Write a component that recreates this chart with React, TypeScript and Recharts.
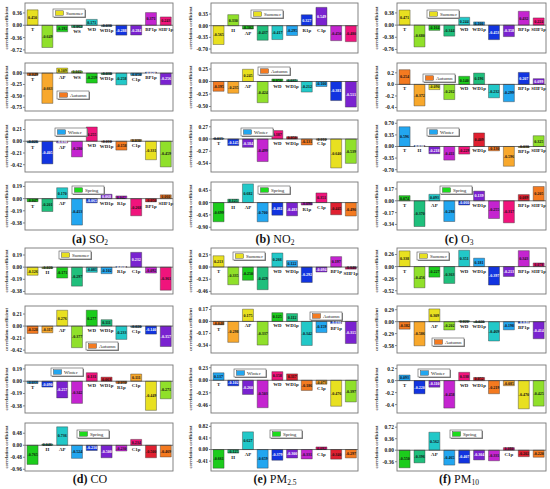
import React from "react";
import { BarChart, Bar, XAxis, YAxis, ReferenceLine, LabelList, Cell } from "recharts";

const categories = ["T", "H", "AP", "WS", "WD", "WD1p", "R1p", "C1p", "BP1p", "SHF1p"];
const seasons = ["Summer", "Autumn", "Winter", "Spring"];

// (a) SO2
const so2Summer = [0.45, -0.649, -0.192, -0.062, 0.171, -0.03, -0.288, -0.284, 0.371, 0.243];
const so2Autumn = [-0.049, -0.663, 0.109, 0.042, -0.219, -0.03, -0.258, -0.05, 0.02, -0.256];
const so2Winter = [-0.026, -0.405, -0.03, -0.28, 0.255, -0.01, -0.158, 0.03, -0.331, -0.459];
const so2Spring = [-0.047, -0.201, 0.17, -0.413, -0.065, 0.068, 0.042, -0.268, -0.05, 0.06];
// (b) NO2
const no2Summer = [-0.565, 0.33, -0.102, -0.437, -0.417, -0.295, 0.327, 0.549, -0.45, -0.48];
const no2Autumn = [-0.195, -0.235, 0.245, -0.424, 0.05, 0.035, -0.212, -0.1, -0.381, -0.511];
const no2Winter = [0.015, -0.145, -0.184, -0.499, 0.187, 0.05, -0.131, -0.01, -0.64, -0.539];
const no2Spring = [-0.699, 0.125, 0.682, -0.7, -0.461, -0.483, -0.09, 0.351, -0.445, -0.49];
// (c) O3
const o3Summer = [0.471, -0.68, -0.164, -0.344, 0.244, 0.1, -0.453, -0.358, 0.432, 0.224];
const o3Autumn = [0.254, -0.372, -0.09, -0.262, 0.14, 0.196, -0.232, -0.299, 0.207, 0.099];
const o3Winter = [0.596, 0.03, -0.218, -0.411, -0.229, 0.409, -0.13, -0.596, -0.03, 0.325];
const o3Spring = [0.074, -0.37, 0.093, -0.298, -0.06, 0.139, -0.255, -0.317, 0.089, 0.205];
// (d) CO
const coSummer = [-0.126, -0.02, -0.171, -0.297, -0.081, -0.102, 0.01, 0.232, -0.092, -0.361];
const coAutumn = [-0.128, -0.117, 0.276, -0.377, 0.277, 0.111, -0.233, -0.02, -0.14, -0.357];
const coWinter = [-0.033, -0.09, -0.257, -0.342, 0.131, 0.063, -0.03, 0.111, -0.449, -0.271];
const coSpring = [-0.765, 0.046, 0.736, -0.524, -0.21, -0.5, -0.23, 0.234, -0.5, -0.469];
// (e) PM2.5
const pm25Summer = [0.213, -0.335, -0.25, -0.429, 0.266, 0.122, -0.292, -0.094, 0.197, -0.04];
const pm25Autumn = [-0.048, -0.298, 0.175, -0.337, 0.125, 0.112, -0.342, -0.159, -0.03, -0.315];
const pm25Winter = [0.137, -0.102, -0.26, -0.503, 0.158, 0.117, -0.186, -0.073, -0.476, -0.397];
const pm25Spring = [-0.661, -0.125, 0.627, -0.659, -0.379, -0.3, -0.331, 0.092, -0.34, -0.297];
// (f) PM10
const pm10Summer = [0.338, -0.456, -0.227, -0.363, 0.351, 0.181, -0.397, -0.213, 0.343, 0.078];
const pm10Autumn = [-0.182, -0.586, 0.309, -0.202, 0.02, -0.02, -0.469, -0.198, -0.04, -0.414];
const pm10Winter = [0.093, -0.22, -0.11, -0.458, 0.138, 0.052, -0.219, -0.085, -0.47, -0.425];
const pm10Spring = [-0.55, -0.396, 0.562, -0.465, -0.407, -0.304, -0.331, 0.08, -0.202, -0.22];

// tick labels
const so2Ticks = [["0.36", "0.00", "-0.36", "-0.72"], ["0.00", "-0.25", "-0.50", "-0.75"], ["0.21", "0.00", "-0.21", "-0.42"], ["0.19", "0.00", "-0.19", "-0.38"]];
const no2Ticks = [["0.35", "0.00", "-0.35", "-0.70"], ["0.25", "0.00", "-0.25", "-0.50"], ["0.27", "0.00", "-0.27", "-0.54"], ["0.45", "0.00", "-0.45", "-0.90"]];
const o3Ticks = [["0.38", "0.00", "-0.38", "-0.76"], ["0.2", "0.0", "-0.2", "-0.4"], ["0.70", "0.35", "0.00", "-0.35", "-0.70"], ["0.17", "0.00", "-0.17", "-0.34"]];
const coTicks = [["0.19", "0.00", "-0.19", "-0.38"], ["0.21", "0.00", "-0.21", "-0.42"], ["0.19", "0.00", "-0.19", "-0.38"], ["0.48", "0.00", "-0.48", "-0.96"]];
const pm25Ticks = [["0.23", "0.00", "-0.23", "-0.46"], ["0.17", "0.00", "-0.17", "-0.34"], ["0.23", "0.00", "-0.23", "-0.46"], ["0.82", "0.41", "0.00", "-0.41"]];
const pm10Ticks = [["0.26", "0.00", "-0.26", "-0.52"], ["0.29", "0.00", "-0.29", "-0.58"], ["0.2", "0.0", "-0.2", "-0.4"], ["0.72", "0.36", "0.00", "-0.36"]];

const FONT = "'Liberation Serif', 'Times New Roman', serif";

// colour wheel used by the plotting program; each season starts at a different slot
const palette = [
  "#f47a20", "#f8a82c", "#e8e020", "#90e02a", "#1ccc1c", "#1fbf7c", "#22c8c8",
  "#22a6f0", "#1234e0", "#7a22d0", "#c424d0", "#f0147c", "#e02030",
];
const seasonStart = [2, 0, 7, 4];
const seasonColor = ["#e8e020", "#f47a20", "#22a6f0", "#1cdc1c"];

const cols = [
  { left: 0, frameLeft: 25, frameRight: 173, labelX: 8, capX: 90 },
  { left: 183, frameLeft: 211, frameRight: 358, labelX: 192, capX: 275 },
  { left: 368, frameLeft: 397, frameRight: 546, labelX: 378, capX: 459 },
];
const rows = [
  { frames: [[3, 53], [63, 111], [120, 172], [182, 230]], capY: 243 },
  { frames: [[248, 294], [306, 353], [365, 413], [423, 471]], capY: 483 },
];

const panels = [
  { col: 0, row: 0, tag: "(a)", chem: "SO", sub: "2", series: [so2Summer, so2Autumn, so2Winter, so2Spring], ticks: so2Ticks,
    domains: [[-0.81, 0.65], [-0.83, 0.22], [-0.55, 0.38], [-0.49, 0.26]],
    legends: [[53, 9], [57, 91], [55, 128], [72, 186]] },
  { col: 1, row: 0, tag: "(b)", chem: "NO", sub: "2", series: [no2Summer, no2Autumn, no2Winter, no2Spring], ticks: no2Ticks,
    domains: [[-0.82, 0.68], [-0.59, 0.37], [-0.73, 0.42], [-1.0, 0.75]],
    legends: [[251, 10], [258, 67], [241, 128], [258, 186]] },
  { col: 2, row: 0, tag: "(c)", chem: "O", sub: "3", series: [o3Summer, o3Autumn, o3Winter, o3Spring], ticks: o3Ticks,
    domains: [[-0.87, 0.69], [-0.46, 0.37], [-0.77, 0.8], [-0.42, 0.27]],
    legends: [[427, 10], [423, 74], [427, 128], [440, 186]] },
  { col: 0, row: 1, tag: "(d)", chem: "CO", sub: "", series: [coSummer, coAutumn, coWinter, coSpring], ticks: coTicks,
    domains: [[-0.42, 0.3], [-0.47, 0.35], [-0.49, 0.25], [-1.03, 0.89]],
    legends: [[59, 251], [86, 342], [51, 368], [77, 430]] },
  { col: 1, row: 1, tag: "(e)", chem: "PM", sub: "2.5", series: [pm25Summer, pm25Autumn, pm25Winter, pm25Spring], ticks: pm25Ticks,
    domains: [[-0.51, 0.36], [-0.45, 0.22], [-0.6, 0.28], [-0.76, 0.94]],
    legends: [[233, 252], [310, 312], [234, 369], [270, 430]] },
  { col: 2, row: 1, tag: "(f)", chem: "PM", sub: "10", series: [pm10Summer, pm10Autumn, pm10Winter, pm10Spring], ticks: pm10Ticks,
    domains: [[-0.59, 0.4], [-0.76, 0.38], [-0.54, 0.26], [-0.65, 0.85]],
    legends: [[417, 252], [432, 338], [418, 369], [450, 430]] },
];

const makeLabel = (season: number) => (props: any) => {
  const { x, y, width, height, value, index } = props;
  const top = Math.min(y, y + height);
  const bottom = Math.max(y, y + height);
  const zero = value >= 0 ? bottom : top;
  const cx = x + width / 2;
  const slot = (seasonStart[season] + index) % palette.length;
  const dark = slot === 8 || slot === 9;
  const showName = value >= 0 || bottom - zero < 4;
  const nameY = (value >= 0 ? zero : bottom) + 6;
  return (
    <g>
      <text x={cx} y={(top + bottom) / 2 + 1.4} textAnchor="middle" fontSize={4} fontFamily={FONT}
        fontWeight={700} fill={dark ? "#fff" : "#111"}>
        {Number(value).toFixed(3)}
      </text>
      {showName && (
        <text x={cx} y={nameY} textAnchor="middle" fontSize={4.9} fontFamily={FONT} fontWeight={700} fill="#222">
          {categories[index]}
        </text>
      )}
    </g>
  );
};

function MiniChart({ values, ticks, domain, season, col, frame }: any) {
  const data = categories.map((name, i) => ({ name, v: values[i] }));
  const tickVals = ticks.map(Number);
  const [frameTop, frameBottom] = frame;
  const width = col.frameRight - col.left + 2;
  const height = frameBottom - frameTop + 4;
  return (
    <div style={{ position: "absolute", left: col.left, top: frameTop - 2 }}>
      <BarChart width={width} height={height} data={data} margin={{ top: 2, right: 2, bottom: 2, left: 0 }}
        barCategoryGap="14%">
        <XAxis dataKey="name" hide />
        <YAxis type="number" domain={domain} allowDataOverflow ticks={tickVals} interval={0}
          width={col.frameLeft - col.left} axisLine={false} tickSize={2} tickMargin={1}
          tickLine={{ stroke: "#333", strokeWidth: 0.6 }}
          tick={{ fontSize: 5.5, fontWeight: 700, fill: "#222", fontFamily: FONT }}
          tickFormatter={(v: number) => ticks[tickVals.indexOf(v)] ?? String(v)} />
        <Bar dataKey="v" isAnimationActive={false} stroke="#333" strokeWidth={0.4}>
          {data.map((d, i) => (
            <Cell key={d.name} fill={palette[(seasonStart[season] + i) % palette.length]} />
          ))}
          <LabelList dataKey="v" content={makeLabel(season)} />
        </Bar>
        <ReferenceLine y={0} stroke="#333" strokeWidth={0.7} />
      </BarChart>
    </div>
  );
}

function Overlay() {
  return (
    <svg width={550} height={489} style={{ position: "absolute", left: 0, top: 0, pointerEvents: "none" }}>
      {panels.map((p) => {
        const col = cols[p.col];
        const row = rows[p.row];
        return (
          <g key={p.tag}>
            {row.frames.map(([t, b], s) => {
              const [lx, ly] = p.legends[s];
              return (
                <g key={s}>
                  <rect x={col.frameLeft} y={t} width={col.frameRight - col.frameLeft} height={b - t}
                    fill="none" stroke="#777" strokeWidth={0.9} />
                  <text x={col.labelX} y={(t + b) / 2} textAnchor="middle" fontSize={4.6} fontFamily={FONT}
                    fontWeight={700} fill="#333" transform={`rotate(-90 ${col.labelX} ${(t + b) / 2})`}>
                    correlation coefficient
                  </text>
                  <rect x={lx + 1} y={ly + 1} width={32} height={8} fill="#888" />
                  <rect x={lx} y={ly} width={32} height={8} fill="#fff" stroke="#555" strokeWidth={0.6} />
                  <rect x={lx + 2.5} y={ly + 1.8} width={8} height={4.4} fill={seasonColor[s]} stroke="#333" strokeWidth={0.4} />
                  <text x={lx + 13} y={ly + 5.8} fontSize={5} fontFamily={FONT} fill="#222">{seasons[s]}</text>
                </g>
              );
            })}
            <text x={col.capX} y={row.capY} textAnchor="middle" fontSize={12} fontFamily={FONT} fill="#111">
              <tspan fontWeight={700}>{p.tag}</tspan>
              <tspan> {p.chem}</tspan>
              {p.sub && <tspan fontSize={7.5} dy={2}>{p.sub}</tspan>}
            </text>
          </g>
        );
      })}
    </svg>
  );
}

export default function App() {
  return (
    <div style={{ position: "absolute", left: 0, top: 0, width: 550, height: 489, background: "#fff" }}>
      {panels.map((p) =>
        p.series.map((values, s) => (
          <MiniChart key={`${p.tag}-${s}`} values={values} ticks={p.ticks[s]} domain={p.domains[s]}
            season={s} col={cols[p.col]} frame={rows[p.row].frames[s]} />
        ))
      )}
      <Overlay />
    </div>
  );
}
